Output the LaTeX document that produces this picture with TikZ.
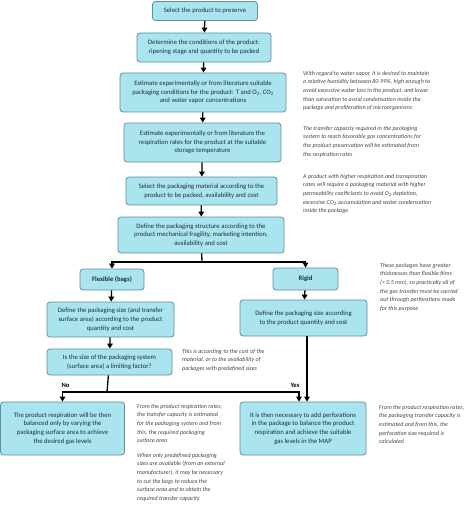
\documentclass[tikz,border=0pt]{standalone}
\usepackage{fontspec}
\setmainfont{Carlito}
\usepackage{tikz}
\usetikzlibrary{arrows,arrows.meta}
\definecolor{boxfill}{HTML}{A9E4EF}
\definecolor{boxline}{HTML}{628E9C}
\definecolor{boxtext}{HTML}{1C2F3E}
\definecolor{notetext}{HTML}{454545}

\begin{document}
\begin{tikzpicture}[x=1pt,y=-1pt,
  stepbox/.style={draw=boxline, fill=boxfill, rounded corners=3pt, line width=0.8pt,
    align=center, text=boxtext, inner sep=0pt, font=\fontsize{6.7}{8.6}\selectfont},
  note/.style={anchor=north west, align=left, inner sep=0pt, text=notetext,
    font=\fontsize{6}{8.6}\selectfont\itshape},
  flow/.style={line width=1.3pt, -{Triangle[length=5pt,width=5.5pt]}},
  link/.style={line width=1.3pt}]
  \useasboundingbox (0,0) rectangle (474,508);

  \node[stepbox, minimum width=105pt, minimum height=19pt] (select) at (205,11) {Select the product to preserve};
  \node[stepbox, minimum width=134pt, minimum height=29pt] (cond) at (204,47.5)
    {Determine the conditions of the product:\\ ripening stage and quantity to be packed};
  \node[stepbox, minimum width=166pt, minimum height=39pt] (pcond) at (203,92.5)
    {Estimate experimentally or from literature suitable\\ packaging conditions for the product: T and O\textsubscript{2}, CO\textsubscript{2}\\ and water vapor concentrations};
  \node[stepbox, minimum width=157pt, minimum height=39pt] (resp) at (202.5,142.5)
    {Estimate experimentally or from literature the\\ respiration rates for the product at the suitable\\ storage temperature};
  \node[stepbox, minimum width=151pt, minimum height=28pt] (material) at (201.5,191)
    {Select the packaging material according to the\\ product to be packed, availability and cost};
  \node[stepbox, minimum width=166pt, minimum height=36pt] (structure) at (201,235)
    {Define the packaging structure according to the\\ product mechanical fragility, marketing intention,\\ availability and cost};
  \node[stepbox, minimum width=64pt, minimum height=21pt] (flexible) at (112,279.5) {\textbf{Flexible (bags)}};
  \node[stepbox, minimum width=65pt, minimum height=22pt] (rigid) at (305.5,279) {\textbf{Rigid}};
  \node[stepbox, minimum width=127pt, minimum height=35pt] (fsize) at (110.5,319.5)
    {Define the packaging size (and transfer\\ surface area) according to the product\\ quantity and cost};
  \node[stepbox, minimum width=127pt, minimum height=36pt] (rsize) at (303.5,318)
    {Define the packaging size  according\\ to the product quantity and cost};
  \node[stepbox, minimum width=125pt, minimum height=26pt] (limit) at (109.5,362)
    {Is the size of the packaging system\\ (surface area) a limiting factor?};
  \node[stepbox, minimum width=124pt, minimum height=53pt] (balance) at (62.5,428.5)
    {The product respiration will be then\\ balanced only by varying the\\ packaging surface area to achieve\\ the desired gas levels};
  \node[stepbox, minimum width=126pt, minimum height=53pt] (perfor) at (303,428.5)
    {It is then necessary to add perforations\\ in the package to balance the product\\ respiration and achieve the suitable\\ gas levels in the MAP};

  \node[note] (vapor) at (303,71)
    {With regard to water vapor, it is desired to maintain\\ a relative humidity between 80-99\%, high enough to\\ avoid excessive water loss in the product, and lower\\ than saturation to avoid condensation inside the\\ package and proliferation of microorganisms};
  \node[note] (capacity) at (303,126)
    {The transfer capacity required in the packaging\\ system to reach favorable gas concentrations for\\ the product preservation will be estimated from\\ the respiration rates};
  \node[note] (perm) at (303,174)
    {A product with higher respiration and transpiration\\ rates will require a packaging material with higher\\ permeability coefficients to avoid O\textsubscript{2} depletion,\\ excessive CO\textsubscript{2} accumulation and water condensation\\ inside the package};
  \node[note] (thick) at (380,263)
    {These packages have greater\\ thicknesses than flexible films\\ (> 0.5 mm), so practically all of\\ the gas transfer must be carried\\ out through perforations made\\ for this purpose};
  \node[note] (cost) at (182,349)
    {This is according to the cost of the\\ material, or to the availability of\\ packages with predefined sizes};
  \node[note] (area) at (137,404)
    {From the product respiration rates,\\ the transfer capacity is estimated\\ for the packaging system and from\\ this, the required packaging\\ surface area\\[6pt]
     When only predefined packaging\\ sizes are available (from an external\\ manufacturer), it may be necessary\\ to cut the bags to reduce the\\ surface area and to obtain the\\ required transfer capacity};
  \node[note] (psize) at (379,405)
    {From the product respiration rates,\\ the packaging transfer capacity is\\ estimated and from this, the\\ perforation \textup{size required} is\\ calculated};

  \coordinate (split) at (202,262);
  \coordinate (answer) at (107,392);
  \coordinate (yesin) at ([xshift=-4pt]perfor.north);
  \coordinate (rigidin) at ([xshift=4pt]perfor.north);

  \draw[flow] (select) -- (cond);
  \draw[flow] (cond) -- (pcond);
  \draw[flow] (pcond) -- (resp);
  \draw[flow] (resp) -- (material);
  \draw[flow] (material) -- (structure);
  \draw[link] (structure) -- (split);
  \draw[flow] (split) -| (flexible);
  \draw[flow] (split) -| (rigid);
  \draw[flow] (flexible) -- (fsize);
  \draw[flow] (fsize) -- (limit);
  \draw[flow] (rigid) -- (rsize);
  \draw[link] (limit) -- (answer);
  \draw[flow] (answer) -| node[pos=0.5, above, xshift=3pt, font=\fontsize{6.6}{8}\selectfont\bfseries] {No} (balance);
  \draw[flow] (answer) -| node[pos=0.5, above, xshift=-4pt, font=\fontsize{6.6}{8}\selectfont\bfseries] {Yes} (yesin);
  \draw[flow] (rigidin |- rsize.south) -- (rigidin);
\end{tikzpicture}
\end{document}
